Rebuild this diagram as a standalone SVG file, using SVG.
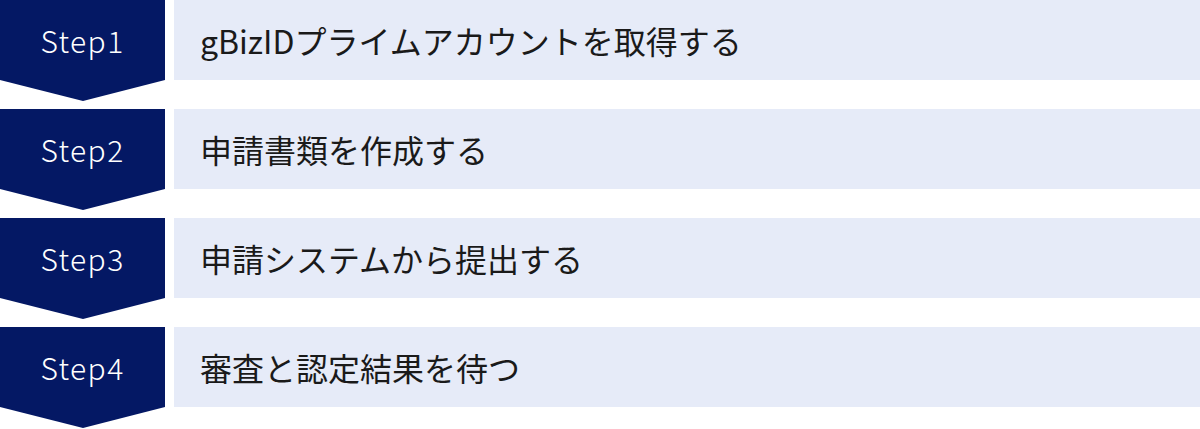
<svg xmlns="http://www.w3.org/2000/svg" width="1200" height="429" viewBox="0 0 1200 429">
<style>
.badge{fill:#041864}
.panel{fill:#e6ebf8}
.step{font-family:"Noto Sans CJK JP","Noto Sans",sans-serif;font-size:30px;font-weight:300;letter-spacing:1.4px;fill:#ffffff;text-anchor:middle}
.label{font-family:"Noto Sans CJK JP","Noto Sans",sans-serif;font-size:32px;fill:#1a1a1a}
</style>
<rect width="1200" height="429" fill="#ffffff"/>
<g id="connectors"/>
<g id="step1">
<polygon class="badge" points="0,0 165,0 165,80 83,101 0,80"/>
<rect class="panel" x="174" y="0" width="1026" height="80"/>
<text class="step" x="82.5" y="52.5">Step1</text>
<text class="label" x="200" y="54">gBizIDプライムアカウントを取得する</text>
</g>
<g id="step2">
<polygon class="badge" points="0,109 165,109 165,189 83,210 0,189"/>
<rect class="panel" x="174" y="109" width="1026" height="80"/>
<text class="step" x="82.5" y="161.5">Step2</text>
<text class="label" x="200" y="163">申請書類を作成する</text>
</g>
<g id="step3">
<polygon class="badge" points="0,218 165,218 165,298 83,319 0,298"/>
<rect class="panel" x="174" y="218" width="1026" height="80"/>
<text class="step" x="82.5" y="270.5">Step3</text>
<text class="label" x="200" y="272">申請システムから提出する</text>
</g>
<g id="step4">
<polygon class="badge" points="0,327 165,327 165,407 83,428 0,407"/>
<rect class="panel" x="174" y="327" width="1026" height="80"/>
<text class="step" x="82.5" y="379.5">Step4</text>
<text class="label" x="200" y="381">審査と認定結果を待つ</text>
</g>
</svg>
